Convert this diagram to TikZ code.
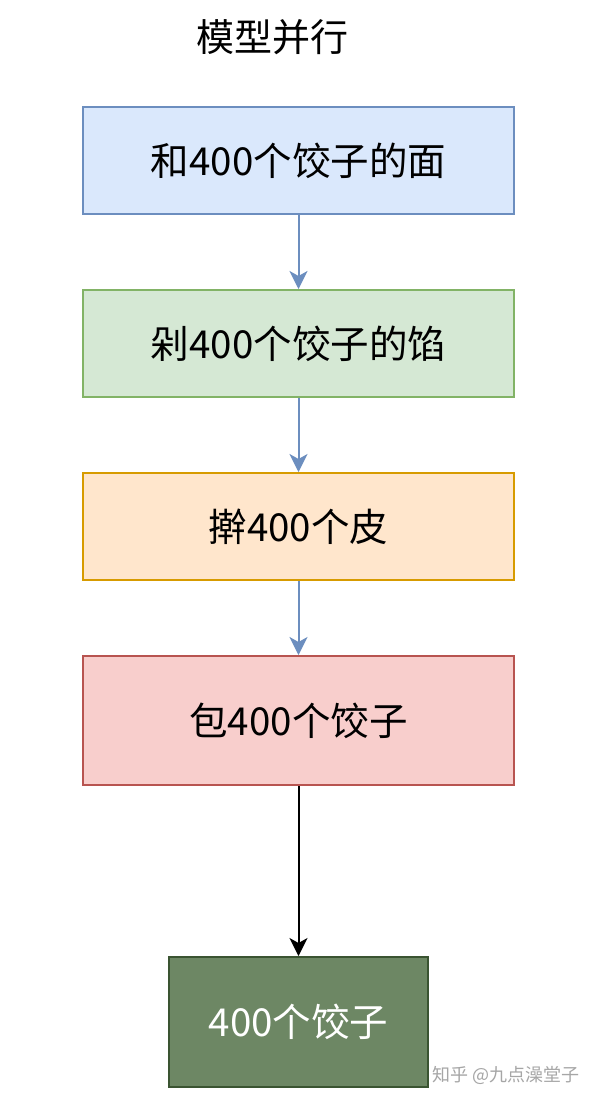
\documentclass[tikz,border=0pt]{standalone}
\usepackage{fontspec}
\setmainfont{Noto Sans CJK SC}
\usetikzlibrary{arrows.meta}
\definecolor{bfill}{HTML}{DAE8FC}\definecolor{bline}{HTML}{6C8EBF}
\definecolor{gfill}{HTML}{D5E8D4}\definecolor{gline}{HTML}{82B366}
\definecolor{ofill}{HTML}{FFE6CC}\definecolor{oline}{HTML}{D79B00}
\definecolor{rfill}{HTML}{F8CECC}\definecolor{rline}{HTML}{B85450}
\definecolor{dfill}{HTML}{6D8764}\definecolor{dline}{HTML}{3A5431}
\begin{document}
\begin{tikzpicture}[x=1pt,y=-1pt,
  box/.style={draw, line width=2pt, inner sep=0pt, font=\fontsize{38.5}{42}\selectfont},
  conn/.style={line width=2pt, -{Stealth[length=18pt,width=18pt,inset=5pt]}}]
\useasboundingbox[fill=white] (0,0) rectangle (592,1098);
\node[font=\fontsize{38}{42}\selectfont] (title) at (272,37) {模型并行};
\node[box, fill=bfill, draw=bline, minimum width=431pt, minimum height=107pt] (b1) at (298.5,160.5) {和400个饺子的面};
\node[box, fill=gfill, draw=gline, minimum width=431pt, minimum height=107pt] (b2) at (298.5,343.5) {剁400个饺子的馅};
\node[box, fill=ofill, draw=oline, minimum width=431pt, minimum height=107pt] (b3) at (298.5,526.5) {擀400个皮};
\node[box, fill=rfill, draw=rline, minimum width=431pt, minimum height=129pt] (b4) at (298.5,720.5) {包400个饺子};
\node[box, fill=dfill, draw=dline, text=white, minimum width=259pt, minimum height=130pt] (b5) at (298.5,1022) {400个饺子};
\draw[conn, bline] (b1) -- (b2);
\draw[conn, bline] (b2) -- (b3);
\draw[conn, bline] (b3) -- (b4);
\draw[conn, black] (b4) -- (b5);
\node[text=black!35, font=\fontsize{18}{20}\selectfont, anchor=west, inner sep=0pt] (wm) at (432,1075) {知乎 @九点澡堂子};
\end{tikzpicture}
\end{document}
